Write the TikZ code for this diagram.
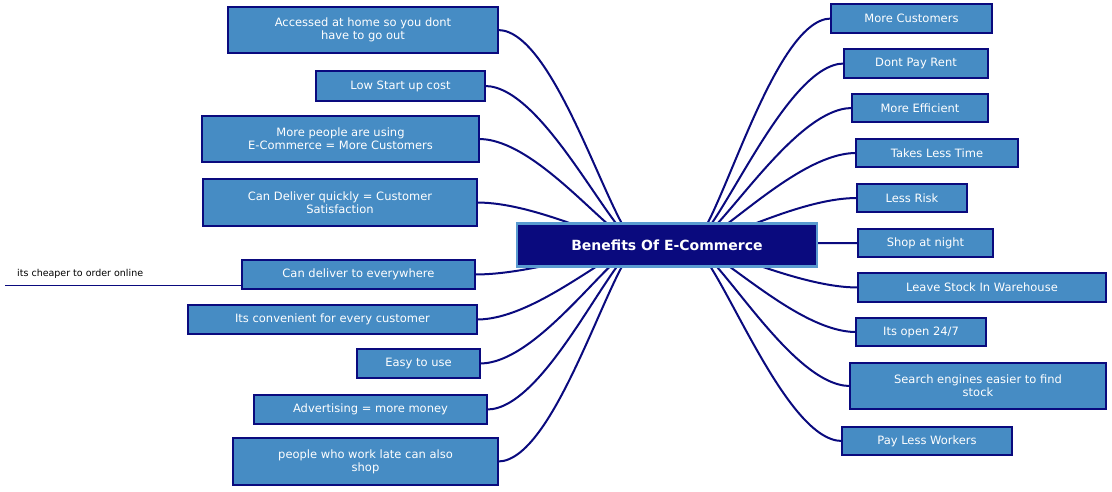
\documentclass[tikz,border=0pt]{standalone}
\usepackage{fontspec}
\setmainfont{DejaVu Sans}
\usetikzlibrary{positioning}
\definecolor{leafblue}{HTML}{468CC4}
\definecolor{navy}{HTML}{0A0A7E}
\definecolor{rimblue}{HTML}{5A9BD0}

\begin{document}
\begin{tikzpicture}[x=1pt, y=-1pt, font=\fontsize{11.5}{13}\selectfont,
    leaf/.style = {draw=navy, line width=1.6pt, fill=leafblue, text=white, align=center, inner sep=2pt},
    hub/.style = {draw=rimblue, line width=2.2pt, fill=navy, text=white, font=\fontsize{14}{16}\selectfont\bfseries},
    link/.style = {draw=navy, line width=2pt}]
    \useasboundingbox (0,0) rectangle (1112,491);

    \coordinate (hubL) at (640,245);
    \coordinate (hubR) at (690,245);

    % left side
    \foreach \n/\xa/\ya/\xb/\yb/\t in {
        l1/228/7/498/53/{Accessed at home so you dont\\have to go out},
        l2/316/71/485/101/{Low Start up cost},
        l3/202/116/479/162/{More people are using\\E-Commerce = More Customers},
        l4/203/179/477/226/{Can Deliver quickly = Customer\\Satisfaction},
        l5/242/260/475/289/{Can deliver to everywhere},
        l6/188/305/477/334/{Its convenient for every customer},
        l7/357/349/480/378/{Easy to use},
        l8/254/395/487/424/{Advertising = more money},
        l9/233/438/498/485/{people who work late can also\\shop}}
    {
        \draw[link] (\xb,{(\ya+\yb)/2}) .. controls +(60,0) and +(-25,0) .. (hubL);
        \node[leaf, minimum width={\xb-\xa}, minimum height={\yb-\ya}] (\n) at ({(\xa+\xb)/2},{(\ya+\yb)/2}) {\t};
    }

    % right side
    \foreach \n/\xa/\ya/\xb/\yb/\t in {
        r1/831/4/992/33/{More Customers},
        r2/844/49/988/78/{Dont Pay Rent},
        r3/852/94/988/122/{More Efficient},
        r4/856/139/1018/167/{Takes Less Time},
        r5/857/184/967/212/{Less Risk},
        r6/858/229/993/257/{Shop at night},
        r7/858/273/1106/302/{Leave Stock In Warehouse},
        r8/856/318/986/346/{Its open 24/7},
        r9/850/363/1106/409/{Search engines easier to find\\stock},
        r10/842/427/1012/455/{Pay Less Workers}}
    {
        \draw[link] (\xa,{(\ya+\yb)/2}) .. controls +(-60,0) and +(25,0) .. (hubR);
        \node[leaf, minimum width={\xb-\xa}, minimum height={\yb-\ya}] (\n) at ({(\xa+\xb)/2},{(\ya+\yb)/2}) {\t};
    }

    \node[hub, minimum width=300, minimum height=43] (main) at (667,245) {Benefits Of E-Commerce};

    % note on the left
    \coordinate (noteend) at (5,285);
    \node[font=\fontsize{9.5}{11}\selectfont, anchor=south west, inner sep=1pt] (note) at (16,280) {its cheaper to order online};
    \draw[navy, line width=0.6pt] (noteend) -- (l5.west |- noteend);
\end{tikzpicture}
\end{document}
